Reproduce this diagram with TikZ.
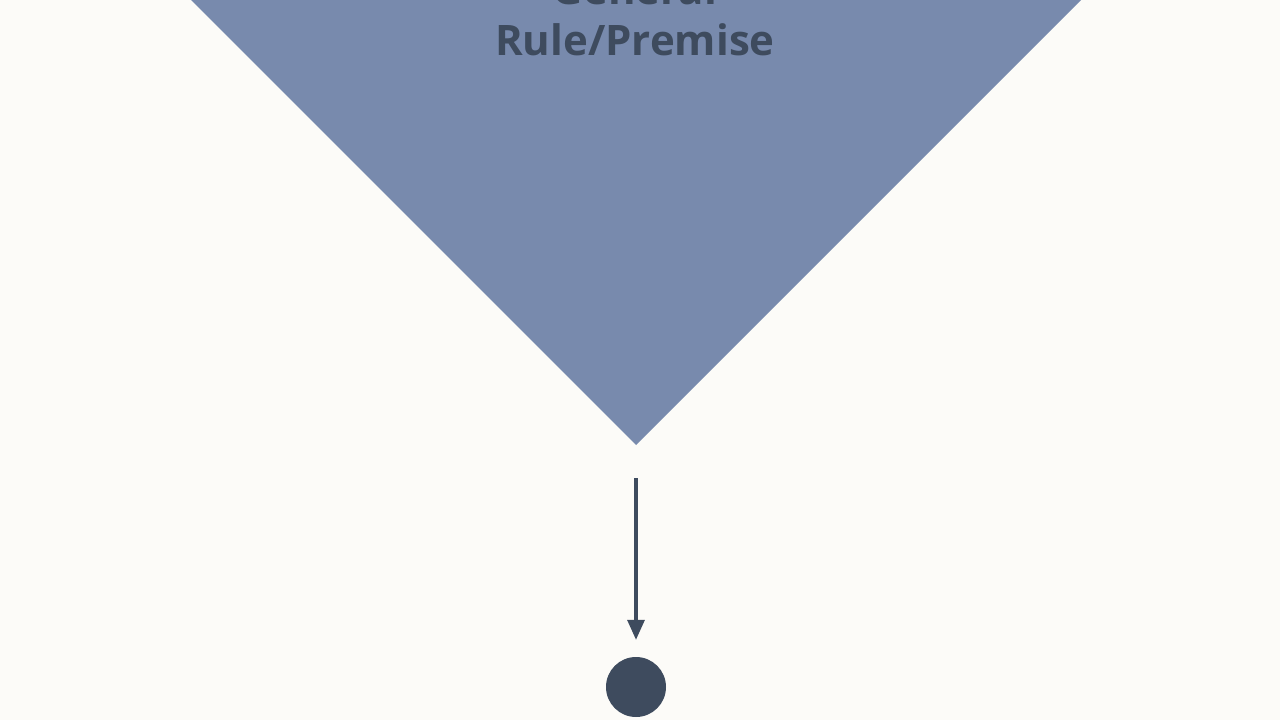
\documentclass[tikz,border=0pt]{standalone}
\usepackage{fontspec}
\setmainfont{Open Sans}
\usetikzlibrary{arrows.meta}
\definecolor{bg}{HTML}{FCFBF8}
\definecolor{tri}{HTML}{788AAD}
\definecolor{ink}{HTML}{3E4B5E}
\tikzset{
  label/.style={text=ink, font=\fontsize{42}{51}\selectfont\bfseries, align=center, inner sep=0pt},
  flow/.style={draw=ink, line width=3.2pt, -{Triangle[length=20pt,width=17pt]}},
  endpt/.style={circle, fill=ink, minimum size=60pt, inner sep=0pt}
}
\begin{document}
\begin{tikzpicture}[x=1pt,y=-1pt]
  \fill[bg] (0,0) rectangle (1280,720);
  \useasboundingbox (0,0) rectangle (1280,720);
  \begin{scope}
    \clip (0,0) rectangle (1280,720);
    \fill[tri] (-64,-255) -- (1336,-255) -- (636,445) -- cycle;
  \end{scope}
  \node[label, anchor=base] (txt) at (635,55) {\vphantom{g}General\\Rule/Premise};
  \coordinate (apex) at (636,478);
  \node[endpt] (dot) at (636,687) {};
  \draw[flow] (apex) -- ([yshift=17pt]dot.north);
\end{tikzpicture}
\end{document}
